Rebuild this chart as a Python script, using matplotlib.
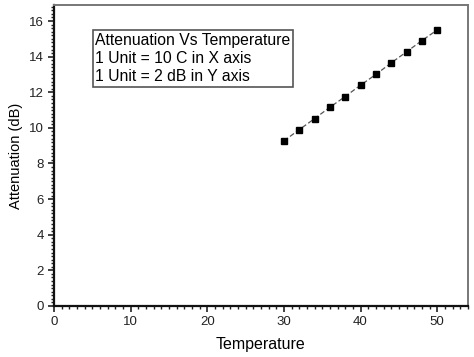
import matplotlib
matplotlib.use("Agg")
import matplotlib.pyplot as plt
from matplotlib.ticker import MultipleLocator

plt.rcParams['font.family'] = ['Liberation Sans', 'DejaVu Sans']

temperature = [30, 32, 34, 36, 38, 40, 42, 44, 46, 48, 50]
attenuation = [9.27, 9.9, 10.52, 11.16, 11.76, 12.4, 13.0, 13.65, 14.27, 14.9, 15.5]
note_lines = ["Attenuation Vs Temperature",
              "1 Unit = 10 C in X axis",
              "1 Unit = 2 dB in Y axis"]

fig = plt.figure(figsize=(4.74, 3.57), dpi=100)
ax = fig.add_axes([0.114, 0.143, 0.873, 0.843])

ax.plot(temperature, attenuation, color='#555555', linestyle=(0, (4, 2)), linewidth=0.9,
        marker='s', markersize=5, markerfacecolor='black', markeredgecolor='black')

ax.set_xlim(0, 54)
ax.set_ylim(0, 16.9)
ax.xaxis.set_major_locator(MultipleLocator(10))
ax.xaxis.set_minor_locator(MultipleLocator(1))
ax.yaxis.set_major_locator(MultipleLocator(2))
ax.yaxis.set_minor_locator(MultipleLocator(0.2))
ax.tick_params(which='major', direction='out', length=4, width=1.2, labelsize=9.5, colors='#222222')
ax.tick_params(which='minor', direction='out', length=2.5, width=1.0, colors='#222222')

for s in ['left', 'bottom']:
    ax.spines[s].set_linewidth(1.6)
    ax.spines[s].set_color('#111111')
for s in ['top', 'right']:
    ax.spines[s].set_linewidth(1.4)
    ax.spines[s].set_color('#777777')

ax.set_xlabel('Temperature', fontsize=11.5, labelpad=6)
ax.set_ylabel('Attenuation (dB)', fontsize=10.5, labelpad=4)

ax.text(0.099, 0.908, "\n".join(note_lines), transform=ax.transAxes, fontsize=11.3,
        va='top', ha='left', linespacing=1.28,
        bbox=dict(boxstyle='square,pad=0.15', facecolor='white', edgecolor='#555555', linewidth=1.2))

fig.savefig('out.png', dpi=100)
